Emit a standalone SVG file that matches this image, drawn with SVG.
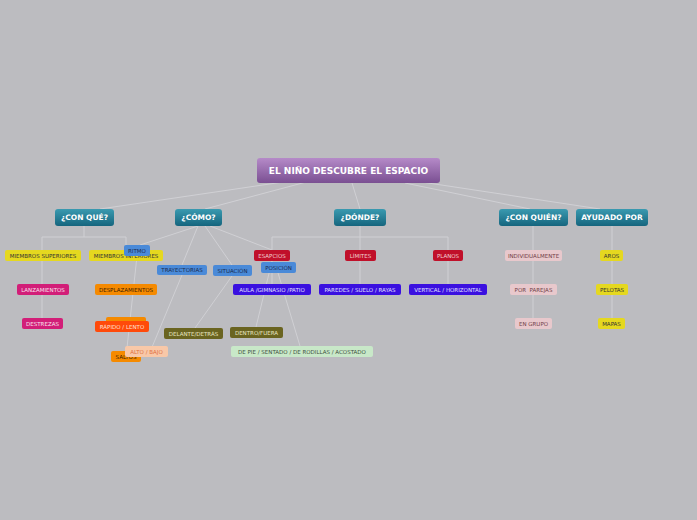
<svg xmlns="http://www.w3.org/2000/svg" width="697" height="520" viewBox="0 0 697 520">
<defs>
<linearGradient id="gr" x1="0" y1="0" x2="0" y2="1"><stop offset="0" stop-color="#b58ac8"/><stop offset="1" stop-color="#7a4f92"/></linearGradient>
<linearGradient id="gt" x1="0" y1="0" x2="0" y2="1"><stop offset="0" stop-color="#3a9ab0"/><stop offset="1" stop-color="#15657e"/></linearGradient>
</defs>
<style>
text{font-family:"DejaVu Sans",Verdana,sans-serif;text-anchor:middle;dominant-baseline:central}
.l text{font-size:5.5px}
.t text{font-size:7.5px;font-weight:bold;fill:#fff}
.c line{stroke:#d0d0d4;stroke-width:1}
</style>
<rect width="697" height="520" fill="#bcbcc0"/>
<g class="c">
<line x1="290" y1="181" x2="100" y2="209"/><line x1="310" y1="181" x2="205" y2="209"/>
<line x1="352" y1="183" x2="360" y2="209"/><line x1="405" y1="183" x2="530" y2="209"/>
<line x1="415" y1="181" x2="600" y2="209"/>
<line x1="84" y1="226" x2="84" y2="237"/><line x1="42" y1="237" x2="126" y2="237"/>
<line x1="42" y1="237" x2="42" y2="250"/><line x1="126" y1="237" x2="126" y2="250"/>
<line x1="42" y1="261" x2="42" y2="318"/>
<line x1="198" y1="226" x2="140" y2="245"/><line x1="198" y1="226" x2="182" y2="265"/>
<line x1="205" y1="226" x2="232" y2="265"/><line x1="210" y1="226" x2="272" y2="250"/>
<line x1="137" y1="256" x2="126" y2="357"/><line x1="182" y1="275" x2="150" y2="352"/>
<line x1="232" y1="276" x2="195" y2="328"/><line x1="272" y1="261" x2="256" y2="327"/>
<line x1="278" y1="273" x2="300" y2="346"/>
<line x1="360" y1="226" x2="360" y2="237"/><line x1="272" y1="237" x2="448" y2="237"/>
<line x1="272" y1="237" x2="272" y2="284"/><line x1="360" y1="237" x2="360" y2="284"/><line x1="448" y1="237" x2="448" y2="284"/>
<line x1="533" y1="226" x2="533" y2="318"/><line x1="612" y1="226" x2="612" y2="318"/>
</g>
<g id="root"><rect x="257" y="158" width="183" height="25" rx="3" fill="url(#gr)"/><text x="348.5" y="170.5" font-size="9" font-weight="bold" fill="#fff">EL NIÑO DESCUBRE EL ESPACIO</text></g>
<g class="t">
<g id="conque"><rect x="55" y="209" width="59" height="17" rx="3" fill="url(#gt)"/><text x="84.5" y="217.5">¿CON QUÉ?</text></g>
<g id="como"><rect x="175" y="209" width="47" height="17" rx="3" fill="url(#gt)"/><text x="198.5" y="217.5">¿CÓMO?</text></g>
<g id="donde"><rect x="334" y="209" width="52" height="17" rx="3" fill="url(#gt)"/><text x="360" y="217.5">¿DÓNDE?</text></g>
<g id="conquien"><rect x="499" y="209" width="69" height="17" rx="3" fill="url(#gt)"/><text x="533.5" y="217.5">¿CON QUIÉN?</text></g>
<g id="ayudado"><rect x="576" y="209" width="72" height="17" rx="3" fill="url(#gt)"/><text x="612" y="217.5">AYUDADO POR</text></g>
</g>
<g class="l">
<g id="ms"><rect x="5" y="250" width="76" height="11" rx="2" fill="#e5d81f"/><text x="43" y="255.5" fill="#333">MIEMBROS SUPERIORES</text></g>
<g id="mi"><rect x="89" y="250" width="74" height="11" rx="2" fill="#e5d81f"/><text x="126" y="255.5" fill="#333">MIEMBROS INFERIORES</text></g>
<g id="ritmo"><rect x="124" y="245" width="26" height="11" rx="2" fill="#4a8ad8"/><text x="137" y="250.5" fill="#1a2a50">RITMO</text></g>
<g id="tray"><rect x="157" y="265" width="50" height="10" rx="2" fill="#4a8ad8"/><text x="182" y="270" fill="#1a2a50">TRAYECTORIAS</text></g>
<g id="sit"><rect x="213" y="265" width="39" height="11" rx="2" fill="#4a8ad8"/><text x="232.5" y="270.5" fill="#1a2a50">SITUACIÓN</text></g>
<g id="esp"><rect x="254" y="250" width="36" height="11" rx="2" fill="#c0102a"/><text x="272" y="255.5" fill="#f0d0d0">ESAPCIOS</text></g>
<g id="pos"><rect x="261" y="262" width="35" height="11" rx="2" fill="#4a8ad8"/><text x="278.5" y="267.5" fill="#1a2a50">POSICIÓN</text></g>
<g id="lanz"><rect x="17" y="284" width="52" height="11" rx="2" fill="#d21e78"/><text x="43" y="289.5" fill="#f8e0ee">LANZAMIENTOS</text></g>
<g id="desp"><rect x="95" y="284" width="62" height="11" rx="2" fill="#f58a00"/><text x="126" y="289.5" fill="#402000">DESPLAZAMIENTOS</text></g>
<g id="aula"><rect x="233" y="284" width="78" height="11" rx="2" fill="#3a10e0"/><text x="272" y="289.5" fill="#e0e0ff">AULA /GIMNASIO /PATIO</text></g>
<g id="pared"><rect x="319" y="284" width="82" height="11" rx="2" fill="#3a10e0"/><text x="360" y="289.5" fill="#e0e0ff">PAREDES / SUELO / RAYAS</text></g>
<g id="vert"><rect x="409" y="284" width="78" height="11" rx="2" fill="#3a10e0"/><text x="448" y="289.5" fill="#e0e0ff">VERTICAL / HORIZONTAL</text></g>
<g id="dest"><rect x="22" y="318" width="41" height="11" rx="2" fill="#d21e78"/><text x="42.5" y="323.5" fill="#f8e0ee">DESTREZAS</text></g>
<g id="orbox"><rect x="106" y="317" width="40" height="9" rx="2" fill="#f58a00"/></g>
<g id="rap"><rect x="95" y="321" width="54" height="11" rx="2" fill="#ff4a0a"/><text x="122" y="326.5" fill="#ffe0d0">RÁPIDO / LENTO</text></g>
<g id="del"><rect x="164" y="328" width="59" height="11" rx="2" fill="#6a6420"/><text x="193.5" y="333.5" fill="#e8e4c0">DELANTE/DETRÁS</text></g>
<g id="den"><rect x="230" y="327" width="53" height="11" rx="2" fill="#6a6420"/><text x="256.5" y="332.5" fill="#e8e4c0">DENTRO/FUERA</text></g>
<g id="saltos"><rect x="111" y="351" width="30" height="11" rx="2" fill="#f58a00"/><text x="126" y="357" fill="#402000">SALTOS</text></g>
<g id="alto"><rect x="125" y="346" width="43" height="11" rx="2" fill="#f8c8a8"/><text x="146.5" y="351.5" fill="#e07040">ALTO / BAJO</text></g>
<g id="depie"><rect x="231" y="346" width="142" height="11" rx="2" fill="#c8e8c8"/><text x="302" y="351.5" fill="#405040">DE PIE / SENTADO / DE RODILLAS / ACOSTADO</text></g>
<g id="lim"><rect x="345" y="250" width="31" height="11" rx="2" fill="#c0102a"/><text x="360.5" y="255.5" fill="#f0d0d0">LÍMITES</text></g>
<g id="planos"><rect x="433" y="250" width="30" height="11" rx="2" fill="#c0102a"/><text x="448" y="255.5" fill="#f0d0d0">PLANOS</text></g>
<g id="ind"><rect x="505" y="250" width="57" height="11" rx="2" fill="#e8c8cc"/><text x="533.5" y="255.5" fill="#704048">INDIVIDUALMENTE</text></g>
<g id="par"><rect x="510" y="284" width="47" height="11" rx="2" fill="#e8c8cc"/><text x="533.5" y="289.5" fill="#704048" xml:space="preserve">POR  PAREJAS</text></g>
<g id="grupo"><rect x="515" y="318" width="37" height="11" rx="2" fill="#e8c8cc"/><text x="533.5" y="323.5" fill="#704048">EN GRUPO</text></g>
<g id="aros"><rect x="600" y="250" width="23" height="11" rx="2" fill="#e5d81f"/><text x="611.5" y="255.5" fill="#333">AROS</text></g>
<g id="pel"><rect x="596" y="284" width="32" height="11" rx="2" fill="#e5d81f"/><text x="612" y="289.5" fill="#333">PELOTAS</text></g>
<g id="mapas"><rect x="598" y="318" width="27" height="11" rx="2" fill="#e5d81f"/><text x="611.5" y="323.5" fill="#333">MAPAS</text></g>
</g>
</svg>
